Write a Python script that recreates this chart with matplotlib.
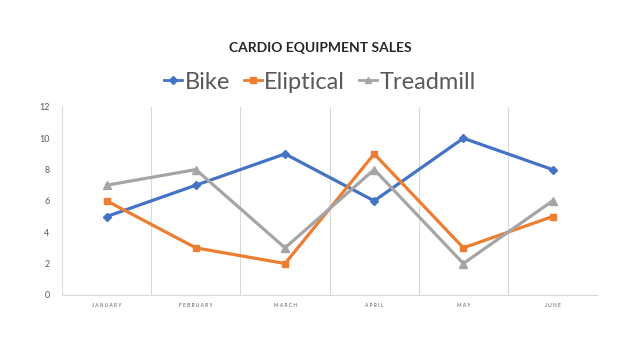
import matplotlib
matplotlib.use("Agg")
import matplotlib.pyplot as plt
import numpy as np

months = ["JANUARY", "FEBRUARY", "MARCH", "APRIL", "MAY", "JUNE"]
bike = [5, 7, 9, 6, 10, 8]
eliptical = [6, 3, 2, 9, 3, 5]
treadmill = [7, 8, 3, 8, 2, 6]

plt.rcParams["font.family"] = ["Lato", "DejaVu Sans"]

fig = plt.figure(figsize=(6.4, 3.6), dpi=100)
ax = fig.add_axes([0.097, 0.181, 0.836, 0.522])

x = np.arange(len(months))
ax.plot(x, bike, color="#4472C4", lw=2.3, marker="D", ms=4.5, label="Bike")
ax.plot(x, eliptical, color="#ED7D31", lw=2.3, marker="s", ms=5, label="Eliptical")
ax.plot(x, treadmill, color="#A5A5A5", lw=2.3, marker="^", ms=5.5, label="Treadmill")

ax.set_xlim(-0.5, len(months) - 0.5)
ax.set_ylim(0, 12)
ax.set_yticks(range(0, 13, 2))
ax.set_xticks(x)
# spaced-out month labels like the original
ax.set_xticklabels([" ".join(m) for m in months], fontsize=3.5, color="#595959")
ax.tick_params(axis="y", labelsize=6.5, colors="#595959", length=0, pad=9)
ax.tick_params(axis="x", length=0, pad=6)

for b in np.arange(-0.5, len(months), 1.0):
    ax.axvline(b, color="#D9D9D9", lw=0.8, zorder=0)
for s in ["top", "left", "right"]:
    ax.spines[s].set_visible(False)
ax.spines["bottom"].set_color("#D9D9D9")

fig.text(0.5, 0.866, "CARDIO EQUIPMENT SALES", ha="center", va="center",
         fontsize=10, fontweight="bold", color="#262626")
leg = fig.legend(loc="center", bbox_to_anchor=(0.5, 0.772), ncol=3, frameon=False,
                 fontsize=17, handlelength=0.75, handletextpad=0.1, columnspacing=0.6,
                 labelcolor="#595959")
for h in leg.legend_handles:
    h.set_markersize(4)
    h.set_linewidth(2)

fig.savefig("out.png", dpi=100)
